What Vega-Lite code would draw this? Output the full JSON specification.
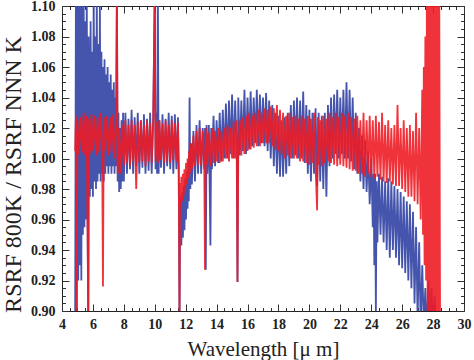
{
  "$schema": "https://vega.github.io/schema/vega-lite/v6.json",
  "width": 402,
  "height": 305,
  "autosize": {"type": "none"},
  "padding": {"left": 62, "top": 6, "right": 10, "bottom": 49},
  "background": "white",
  "config": {"view": {"stroke": "#222", "strokeWidth": 1}},
  "datasets": {
    "blue": [
      {"w":4.85,"v":0.89},{"w":4.9,"v":1.11},{"w":4.95,"v":0.89},{"w":5.0,"v":1.11},{"w":5.05,"v":0.92},{"w":5.1,"v":1.11},{"w":5.15,"v":0.93},{"w":5.2,"v":1.11},{"w":5.25,"v":0.92},{"w":5.3,"v":1.1},{"w":5.35,"v":0.95},{"w":5.4,"v":1.11},{"w":5.45,"v":0.955},{"w":5.5,"v":1.09},{"w":5.55,"v":0.96},{"w":5.6,"v":1.11},{"w":5.65,"v":0.97},{"w":5.7,"v":0.89},{"w":5.72,"v":1.08},{"w":5.8,"v":0.975},{"w":5.85,"v":1.09},{"w":5.9,"v":0.98},{"w":5.95,"v":1.07},{"w":6.0,"v":0.975},{"w":6.05,"v":1.11},{"w":6.1,"v":0.985},{"w":6.15,"v":1.08},{"w":6.2,"v":0.98},{"w":6.25,"v":1.11},{"w":6.3,"v":0.985},{"w":6.35,"v":1.075},{"w":6.4,"v":0.99},{"w":6.45,"v":1.1},{"w":6.5,"v":0.985},{"w":6.55,"v":1.07},{"w":6.6,"v":0.99},{"w":6.65,"v":1.06},{"w":6.7,"v":0.985},{"w":6.75,"v":1.065},{"w":6.8,"v":0.99},{"w":6.85,"v":1.055},{"w":6.9,"v":0.995},{"w":6.95,"v":1.06},{"w":7.0,"v":0.99},{"w":7.05,"v":1.05},{"w":7.1,"v":0.995},{"w":7.15,"v":1.055},{"w":7.2,"v":0.99},{"w":7.25,"v":1.045},{"w":7.3,"v":0.995},{"w":7.35,"v":1.05},{"w":7.4,"v":0.99},{"w":7.45,"v":1.04},{"w":7.5,"v":0.995},{"w":7.55,"v":1.11},{"w":7.6,"v":0.985},{"w":7.65,"v":1.03},{"w":7.7,"v":0.978},{"w":7.75,"v":1.02},{"w":7.8,"v":0.98},{"w":7.85,"v":1.025},{"w":7.9,"v":0.985},{"w":7.95,"v":1.03},{"w":8.0,"v":0.985},{"w":8.1,"v":1.03},{"w":8.2,"v":0.99},{"w":8.3,"v":1.026},{"w":8.4,"v":0.993},{"w":8.5,"v":1.032},{"w":8.6,"v":0.99},{"w":8.7,"v":1.027},{"w":8.8,"v":0.995},{"w":8.9,"v":1.03},{"w":9.0,"v":0.99},{"w":9.1,"v":1.025},{"w":9.2,"v":0.994},{"w":9.3,"v":1.029},{"w":9.4,"v":0.99},{"w":9.5,"v":1.026},{"w":9.6,"v":0.992},{"w":9.7,"v":1.03},{"w":9.8,"v":0.99},{"w":9.9,"v":1.027},{"w":10.0,"v":1.11},{"w":10.05,"v":0.993},{"w":10.1,"v":1.03},{"w":10.15,"v":0.99},{"w":10.2,"v":1.11},{"w":10.25,"v":0.99},{"w":10.3,"v":1.025},{"w":10.4,"v":0.994},{"w":10.5,"v":1.029},{"w":10.6,"v":0.99},{"w":10.7,"v":1.026},{"w":10.8,"v":0.995},{"w":10.9,"v":1.03},{"w":11.0,"v":0.993},{"w":11.1,"v":1.028},{"w":11.2,"v":0.99},{"w":11.3,"v":1.029},{"w":11.4,"v":0.993},{"w":11.5,"v":1.027},{"w":11.55,"v":0.99},{"w":11.6,"v":0.895},{"w":11.63,"v":0.945},{"w":11.68,"v":0.975},{"w":11.72,"v":0.943},{"w":11.77,"v":0.978},{"w":11.82,"v":0.948},{"w":11.87,"v":0.982},{"w":11.92,"v":0.953},{"w":11.97,"v":0.987},{"w":12.02,"v":0.96},{"w":12.07,"v":0.992},{"w":12.12,"v":0.967},{"w":12.17,"v":0.998},{"w":12.2,"v":0.972},{"w":12.25,"v":1.04},{"w":12.3,"v":0.98},{"w":12.35,"v":1.01},{"w":12.4,"v":0.983},{"w":12.5,"v":1.018},{"w":12.6,"v":0.985},{"w":12.7,"v":1.022},{"w":12.8,"v":0.99},{"w":12.9,"v":1.025},{"w":13.0,"v":0.99},{"w":13.1,"v":1.02},{"w":13.2,"v":0.993},{"w":13.25,"v":1.02},{"w":13.3,"v":0.927},{"w":13.35,"v":1.022},{"w":13.4,"v":0.99},{"w":13.5,"v":1.022},{"w":13.6,"v":0.943},{"w":13.65,"v":1.02},{"w":13.7,"v":0.993},{"w":13.8,"v":1.028},{"w":13.9,"v":0.995},{"w":14.0,"v":1.025},{"w":14.1,"v":0.997},{"w":14.2,"v":1.03},{"w":14.3,"v":0.998},{"w":14.4,"v":1.032},{"w":14.5,"v":1.0},{"w":14.6,"v":1.036},{"w":14.7,"v":1.0},{"w":14.8,"v":1.038},{"w":14.9,"v":1.003},{"w":15.0,"v":1.042},{"w":15.1,"v":1.0},{"w":15.2,"v":1.038},{"w":15.3,"v":1.005},{"w":15.35,"v":0.919},{"w":15.4,"v":1.04},{"w":15.5,"v":1.002},{"w":15.6,"v":1.038},{"w":15.7,"v":1.005},{"w":15.8,"v":1.045},{"w":15.9,"v":1.003},{"w":16.0,"v":1.04},{"w":16.1,"v":1.006},{"w":16.2,"v":1.044},{"w":16.3,"v":1.008},{"w":16.4,"v":1.04},{"w":16.5,"v":1.01},{"w":16.6,"v":1.045},{"w":16.7,"v":1.008},{"w":16.8,"v":1.042},{"w":16.9,"v":1.01},{"w":17.0,"v":1.04},{"w":17.1,"v":1.008},{"w":17.2,"v":1.043},{"w":17.3,"v":1.005},{"w":17.4,"v":1.038},{"w":17.5,"v":1.0},{"w":17.6,"v":1.035},{"w":17.7,"v":0.995},{"w":17.8,"v":1.03},{"w":17.9,"v":0.99},{"w":18.0,"v":1.028},{"w":18.1,"v":0.988},{"w":18.2,"v":1.025},{"w":18.3,"v":0.988},{"w":18.4,"v":1.027},{"w":18.5,"v":0.99},{"w":18.6,"v":1.03},{"w":18.7,"v":0.995},{"w":18.8,"v":1.035},{"w":18.9,"v":1.0},{"w":19.0,"v":1.038},{"w":19.1,"v":1.002},{"w":19.2,"v":1.04},{"w":19.3,"v":1.0},{"w":19.4,"v":1.038},{"w":19.5,"v":1.0},{"w":19.6,"v":1.044},{"w":19.7,"v":0.997},{"w":19.8,"v":1.035},{"w":19.9,"v":0.99},{"w":20.0,"v":1.032},{"w":20.1,"v":0.985},{"w":20.2,"v":1.03},{"w":20.3,"v":0.99},{"w":20.4,"v":1.033},{"w":20.5,"v":0.982},{"w":20.6,"v":1.03},{"w":20.7,"v":0.985},{"w":20.8,"v":1.028},{"w":20.9,"v":0.98},{"w":21.0,"v":1.03},{"w":21.1,"v":0.975},{"w":21.2,"v":1.035},{"w":21.3,"v":0.995},{"w":21.4,"v":1.04},{"w":21.5,"v":1.0},{"w":21.6,"v":1.042},{"w":21.7,"v":1.003},{"w":21.8,"v":1.045},{"w":21.9,"v":1.0},{"w":22.0,"v":1.04},{"w":22.1,"v":1.003},{"w":22.2,"v":1.045},{"w":22.3,"v":1.0},{"w":22.4,"v":1.05},{"w":22.5,"v":1.0},{"w":22.6,"v":1.045},{"w":22.7,"v":0.998},{"w":22.8,"v":1.04},{"w":22.9,"v":0.993},{"w":23.0,"v":1.03},{"w":23.1,"v":0.99},{"w":23.2,"v":1.02},{"w":23.3,"v":0.985},{"w":23.4,"v":1.015},{"w":23.5,"v":0.98},{"w":23.6,"v":1.012},{"w":23.7,"v":0.978},{"w":23.8,"v":1.005},{"w":23.9,"v":0.97},{"w":24.0,"v":1.0},{"w":24.1,"v":0.955},{"w":24.15,"v":0.99},{"w":24.2,"v":0.93},{"w":24.25,"v":0.99},{"w":24.3,"v":0.9},{"w":24.35,"v":0.985},{"w":24.4,"v":0.945},{"w":24.5,"v":0.99},{"w":24.6,"v":0.95},{"w":24.7,"v":0.988},{"w":24.8,"v":0.945},{"w":24.9,"v":0.985},{"w":25.0,"v":0.94},{"w":25.1,"v":0.987},{"w":25.2,"v":0.935},{"w":25.3,"v":0.985},{"w":25.4,"v":0.94},{"w":25.5,"v":0.982},{"w":25.6,"v":0.935},{"w":25.7,"v":0.98},{"w":25.8,"v":0.93},{"w":25.9,"v":0.978},{"w":26.0,"v":0.928},{"w":26.1,"v":0.975},{"w":26.2,"v":0.925},{"w":26.3,"v":0.972},{"w":26.4,"v":0.92},{"w":26.5,"v":0.97},{"w":26.6,"v":0.915},{"w":26.7,"v":0.965},{"w":26.8,"v":0.905},{"w":26.9,"v":0.955},{"w":27.0,"v":0.895},{"w":27.1,"v":0.945},{"w":27.2,"v":0.89},{"w":27.3,"v":0.93},{"w":27.4,"v":0.89},{"w":27.5,"v":0.915},{"w":27.6,"v":0.885},{"w":27.7,"v":0.92},{"w":27.8,"v":0.885},{"w":27.9,"v":0.915},{"w":28.0,"v":0.885},{"w":28.1,"v":0.91},{"w":28.2,"v":0.885}
    ],
    "red": [
      {"w":4.85,"v":1.005},{"w":4.9,"v":1.028},{"w":4.95,"v":0.89},{"w":5.0,"v":1.025},{"w":5.1,"v":1.003},{"w":5.2,"v":1.027},{"w":5.3,"v":1.004},{"w":5.4,"v":1.03},{"w":5.5,"v":1.002},{"w":5.6,"v":1.028},{"w":5.7,"v":0.89},{"w":5.75,"v":1.026},{"w":5.8,"v":1.003},{"w":5.9,"v":1.029},{"w":6.0,"v":1.005},{"w":6.1,"v":1.028},{"w":6.2,"v":1.002},{"w":6.3,"v":1.027},{"w":6.4,"v":1.004},{"w":6.5,"v":1.03},{"w":6.6,"v":1.003},{"w":6.65,"v":0.916},{"w":6.7,"v":1.027},{"w":6.8,"v":1.005},{"w":6.9,"v":1.028},{"w":7.0,"v":1.002},{"w":7.1,"v":1.027},{"w":7.2,"v":1.004},{"w":7.3,"v":1.029},{"w":7.4,"v":1.0},{"w":7.5,"v":1.026},{"w":7.55,"v":1.11},{"w":7.6,"v":0.99},{"w":7.7,"v":1.02},{"w":7.8,"v":0.99},{"w":7.9,"v":1.022},{"w":8.0,"v":0.995},{"w":8.1,"v":1.025},{"w":8.2,"v":0.997},{"w":8.3,"v":1.022},{"w":8.4,"v":0.995},{"w":8.5,"v":1.025},{"w":8.6,"v":0.998},{"w":8.7,"v":1.022},{"w":8.8,"v":0.98},{"w":8.9,"v":1.024},{"w":9.0,"v":0.997},{"w":9.1,"v":1.025},{"w":9.2,"v":0.998},{"w":9.3,"v":1.022},{"w":9.4,"v":0.995},{"w":9.5,"v":1.025},{"w":9.6,"v":0.998},{"w":9.7,"v":1.023},{"w":9.8,"v":0.997},{"w":9.9,"v":1.025},{"w":10.0,"v":1.11},{"w":10.05,"v":0.998},{"w":10.1,"v":1.024},{"w":10.2,"v":0.997},{"w":10.3,"v":1.025},{"w":10.4,"v":0.999},{"w":10.5,"v":1.023},{"w":10.6,"v":0.997},{"w":10.7,"v":1.025},{"w":10.8,"v":0.998},{"w":10.9,"v":1.022},{"w":11.0,"v":0.997},{"w":11.1,"v":1.025},{"w":11.2,"v":0.999},{"w":11.3,"v":1.023},{"w":11.4,"v":0.998},{"w":11.5,"v":1.024},{"w":11.55,"v":0.995},{"w":11.6,"v":0.895},{"w":11.63,"v":0.984},{"w":11.67,"v":0.968},{"w":11.72,"v":0.988},{"w":11.77,"v":0.972},{"w":11.82,"v":0.99},{"w":11.87,"v":0.976},{"w":11.92,"v":0.993},{"w":11.97,"v":0.979},{"w":12.02,"v":0.997},{"w":12.07,"v":0.983},{"w":12.12,"v":1.0},{"w":12.17,"v":0.987},{"w":12.22,"v":1.005},{"w":12.27,"v":0.99},{"w":12.32,"v":1.01},{"w":12.4,"v":0.993},{"w":12.5,"v":1.015},{"w":12.6,"v":0.995},{"w":12.7,"v":1.018},{"w":12.8,"v":0.996},{"w":12.9,"v":1.02},{"w":13.0,"v":0.995},{"w":13.1,"v":1.018},{"w":13.2,"v":0.997},{"w":13.25,"v":0.927},{"w":13.3,"v":1.02},{"w":13.4,"v":0.996},{"w":13.5,"v":1.017},{"w":13.6,"v":0.995},{"w":13.7,"v":1.02},{"w":13.8,"v":0.997},{"w":13.9,"v":1.018},{"w":14.0,"v":0.998},{"w":14.1,"v":1.02},{"w":14.2,"v":0.997},{"w":14.3,"v":1.018},{"w":14.4,"v":0.998},{"w":14.5,"v":1.02},{"w":14.6,"v":1.0},{"w":14.7,"v":1.022},{"w":14.8,"v":0.998},{"w":14.9,"v":1.02},{"w":15.0,"v":1.0},{"w":15.1,"v":1.024},{"w":15.2,"v":1.0},{"w":15.3,"v":1.025},{"w":15.35,"v":0.919},{"w":15.4,"v":1.0},{"w":15.5,"v":1.025},{"w":15.6,"v":1.002},{"w":15.7,"v":1.027},{"w":15.8,"v":1.003},{"w":15.9,"v":1.028},{"w":16.0,"v":1.005},{"w":16.1,"v":1.03},{"w":16.2,"v":1.006},{"w":16.3,"v":1.028},{"w":16.4,"v":1.007},{"w":16.5,"v":1.03},{"w":16.6,"v":1.008},{"w":16.7,"v":1.032},{"w":16.8,"v":1.008},{"w":16.9,"v":1.03},{"w":17.0,"v":1.01},{"w":17.1,"v":1.033},{"w":17.2,"v":1.01},{"w":17.3,"v":1.032},{"w":17.4,"v":1.01},{"w":17.5,"v":1.034},{"w":17.6,"v":1.008},{"w":17.7,"v":1.033},{"w":17.8,"v":1.006},{"w":17.9,"v":1.035},{"w":18.0,"v":1.005},{"w":18.1,"v":1.032},{"w":18.2,"v":1.003},{"w":18.3,"v":1.03},{"w":18.4,"v":1.0},{"w":18.5,"v":1.028},{"w":18.6,"v":1.002},{"w":18.7,"v":1.03},{"w":18.8,"v":1.0},{"w":18.9,"v":1.027},{"w":19.0,"v":1.0},{"w":19.1,"v":1.028},{"w":19.2,"v":1.0},{"w":19.3,"v":1.026},{"w":19.4,"v":0.998},{"w":19.5,"v":1.028},{"w":19.6,"v":0.998},{"w":19.7,"v":1.026},{"w":19.8,"v":0.997},{"w":19.9,"v":1.028},{"w":20.0,"v":0.996},{"w":20.1,"v":1.026},{"w":20.2,"v":0.997},{"w":20.3,"v":1.03},{"w":20.4,"v":0.995},{"w":20.5,"v":0.966},{"w":20.55,"v":1.027},{"w":20.6,"v":0.996},{"w":20.7,"v":1.025},{"w":20.8,"v":0.995},{"w":20.9,"v":1.028},{"w":21.0,"v":0.997},{"w":21.1,"v":1.026},{"w":21.2,"v":0.998},{"w":21.3,"v":1.03},{"w":21.4,"v":0.997},{"w":21.5,"v":1.027},{"w":21.6,"v":0.996},{"w":21.7,"v":1.03},{"w":21.8,"v":0.995},{"w":21.9,"v":1.027},{"w":22.0,"v":0.996},{"w":22.1,"v":1.03},{"w":22.2,"v":0.995},{"w":22.3,"v":1.028},{"w":22.4,"v":0.994},{"w":22.5,"v":1.03},{"w":22.6,"v":0.993},{"w":22.7,"v":1.027},{"w":22.8,"v":0.992},{"w":22.9,"v":1.026},{"w":23.0,"v":0.992},{"w":23.1,"v":1.028},{"w":23.2,"v":0.99},{"w":23.3,"v":1.025},{"w":23.4,"v":0.99},{"w":23.5,"v":1.03},{"w":23.6,"v":0.988},{"w":23.7,"v":1.025},{"w":23.8,"v":0.99},{"w":23.9,"v":1.028},{"w":24.0,"v":0.988},{"w":24.1,"v":1.025},{"w":24.2,"v":0.987},{"w":24.3,"v":1.028},{"w":24.4,"v":0.988},{"w":24.5,"v":1.024},{"w":24.6,"v":0.986},{"w":24.7,"v":1.03},{"w":24.8,"v":0.985},{"w":24.9,"v":1.022},{"w":25.0,"v":0.984},{"w":25.1,"v":1.025},{"w":25.2,"v":0.985},{"w":25.3,"v":1.02},{"w":25.4,"v":0.983},{"w":25.5,"v":1.022},{"w":25.6,"v":0.982},{"w":25.7,"v":1.035},{"w":25.8,"v":0.982},{"w":25.9,"v":1.02},{"w":26.0,"v":0.98},{"w":26.1,"v":1.025},{"w":26.2,"v":0.978},{"w":26.3,"v":1.02},{"w":26.4,"v":0.975},{"w":26.5,"v":1.022},{"w":26.6,"v":0.975},{"w":26.7,"v":1.018},{"w":26.8,"v":0.972},{"w":26.9,"v":1.03},{"w":27.0,"v":0.97},{"w":27.1,"v":1.02},{"w":27.2,"v":0.96},{"w":27.3,"v":1.045},{"w":27.35,"v":0.95},{"w":27.4,"v":1.06},{"w":27.45,"v":0.93},{"w":27.5,"v":1.08},{"w":27.55,"v":0.92},{"w":27.6,"v":1.11},{"w":27.65,"v":0.9},{"w":27.7,"v":1.11},{"w":27.75,"v":0.89},{"w":27.8,"v":1.11},{"w":27.85,"v":0.89},{"w":27.9,"v":1.11},{"w":27.95,"v":0.89},{"w":28.0,"v":1.11},{"w":28.05,"v":0.89},{"w":28.1,"v":1.11},{"w":28.15,"v":0.89},{"w":28.2,"v":1.11},{"w":28.25,"v":0.89},{"w":28.3,"v":1.11},{"w":28.35,"v":0.89},{"w":28.4,"v":1.11},{"w":28.45,"v":0.9}
    ],
    "box": [{"w":4,"v":0.9}]
  },
  "resolve": {"axis": {"x": "independent", "y": "independent"}},
  "layer": [
    {
      "data": {"name": "blue"},
      "mark": {"type": "line", "color": "#3b4ba8", "strokeWidth": 1.8, "clip": true, "opacity": 0.95},
      "encoding": {
        "x": {"field": "w", "type": "quantitative", "scale": {"domain": [4, 30], "nice": false, "zero": false},
          "axis": {"orient": "bottom", "values": [4,6,8,10,12,14,16,18,20,22,24,26,28,30], "format": "d", "tickSize": -7, "tickColor": "#333", "labelPadding": 13, "domain": false, "grid": false, "labelFont": "Liberation Serif", "labelFontSize": 14, "labelFontWeight": "bold", "labelColor": "#222", "labelFlush": false, "labelOverlap": false, "title": "Wavelength [μ m]", "titleFont": "Liberation Serif", "titleFontSize": 21, "titleFontWeight": "normal", "titleColor": "#222", "titleBaseline": "alphabetic", "titleY": 44}},
        "y": {"field": "v", "type": "quantitative", "scale": {"domain": [0.9, 1.1], "nice": false, "zero": false},
          "axis": {"orient": "left", "values": [0.9,0.92,0.94,0.96,0.98,1.0,1.02,1.04,1.06,1.08,1.1], "format": ".2f", "tickSize": -7, "tickColor": "#333", "labelPadding": 14, "domain": false, "grid": false, "labelFont": "Liberation Serif", "labelFontSize": 14, "labelFontWeight": "bold", "labelColor": "#222", "labelOverlap": false, "title": "RSRF 800K / RSRF NNN K", "titleFont": "Liberation Serif", "titleFontSize": 24, "titleFontWeight": "normal", "titleColor": "#222", "titleAngle": -90, "titleAlign": "center", "titleBaseline": "alphabetic", "titleX": -42, "titleY": 168}}
      }
    },
    {
      "data": {"name": "red"},
      "mark": {"type": "line", "color": "#ee1c25", "strokeWidth": 1.8, "clip": true, "opacity": 0.9},
      "encoding": {
        "x": {"field": "w", "type": "quantitative", "scale": {"domain": [4, 30], "nice": false, "zero": false},
          "axis": {"orient": "bottom", "values": [4.5,5,5.5,6.5,7,7.5,8.5,9,9.5,10.5,11,11.5,12.5,13,13.5,14.5,15,15.5,16.5,17,17.5,18.5,19,19.5,20.5,21,21.5,22.5,23,23.5,24.5,25,25.5,26.5,27,27.5,28.5,29,29.5], "tickSize": -3.5, "tickColor": "#333", "labels": false, "domain": false, "grid": false, "title": null}},
        "y": {"field": "v", "type": "quantitative", "scale": {"domain": [0.9, 1.1], "nice": false, "zero": false},
          "axis": {"orient": "left", "values": [0.905,0.91,0.915,0.925,0.93,0.935,0.945,0.95,0.955,0.965,0.97,0.975,0.985,0.99,0.995,1.005,1.01,1.015,1.025,1.03,1.035,1.045,1.05,1.055,1.065,1.07,1.075,1.085,1.09,1.095], "tickSize": -3.5, "tickColor": "#333", "labels": false, "domain": false, "grid": false, "title": null}}
      }
    },
    {
      "data": {"name": "box"},
      "mark": {"type": "point", "opacity": 0},
      "encoding": {
        "x": {"field": "w", "type": "quantitative", "scale": {"domain": [4, 30], "nice": false, "zero": false},
          "axis": {"orient": "top", "values": [4,6,8,10,12,14,16,18,20,22,24,26,28,30], "tickSize": -7, "tickColor": "#333", "labels": false, "domain": false, "grid": false, "title": null}},
        "y": {"field": "v", "type": "quantitative", "scale": {"domain": [0.9, 1.1], "nice": false, "zero": false},
          "axis": {"orient": "right", "values": [0.9,0.92,0.94,0.96,0.98,1.0,1.02,1.04,1.06,1.08,1.1], "tickSize": -7, "tickColor": "#333", "labels": false, "domain": false, "grid": false, "title": null}}
      }
    },
    {
      "data": {"name": "box"},
      "mark": {"type": "point", "opacity": 0},
      "encoding": {
        "x": {"field": "w", "type": "quantitative", "scale": {"domain": [4, 30], "nice": false, "zero": false},
          "axis": {"orient": "top", "values": [4.5,5,5.5,6.5,7,7.5,8.5,9,9.5,10.5,11,11.5,12.5,13,13.5,14.5,15,15.5,16.5,17,17.5,18.5,19,19.5,20.5,21,21.5,22.5,23,23.5,24.5,25,25.5,26.5,27,27.5,28.5,29,29.5], "tickSize": -3.5, "tickColor": "#333", "labels": false, "domain": false, "grid": false, "title": null}},
        "y": {"field": "v", "type": "quantitative", "scale": {"domain": [0.9, 1.1], "nice": false, "zero": false},
          "axis": {"orient": "right", "values": [0.905,0.91,0.915,0.925,0.93,0.935,0.945,0.95,0.955,0.965,0.97,0.975,0.985,0.99,0.995,1.005,1.01,1.015,1.025,1.03,1.035,1.045,1.05,1.055,1.065,1.07,1.075,1.085,1.09,1.095], "tickSize": -3.5, "tickColor": "#333", "labels": false, "domain": false, "grid": false, "title": null}}
      }
    }
  ]
}
